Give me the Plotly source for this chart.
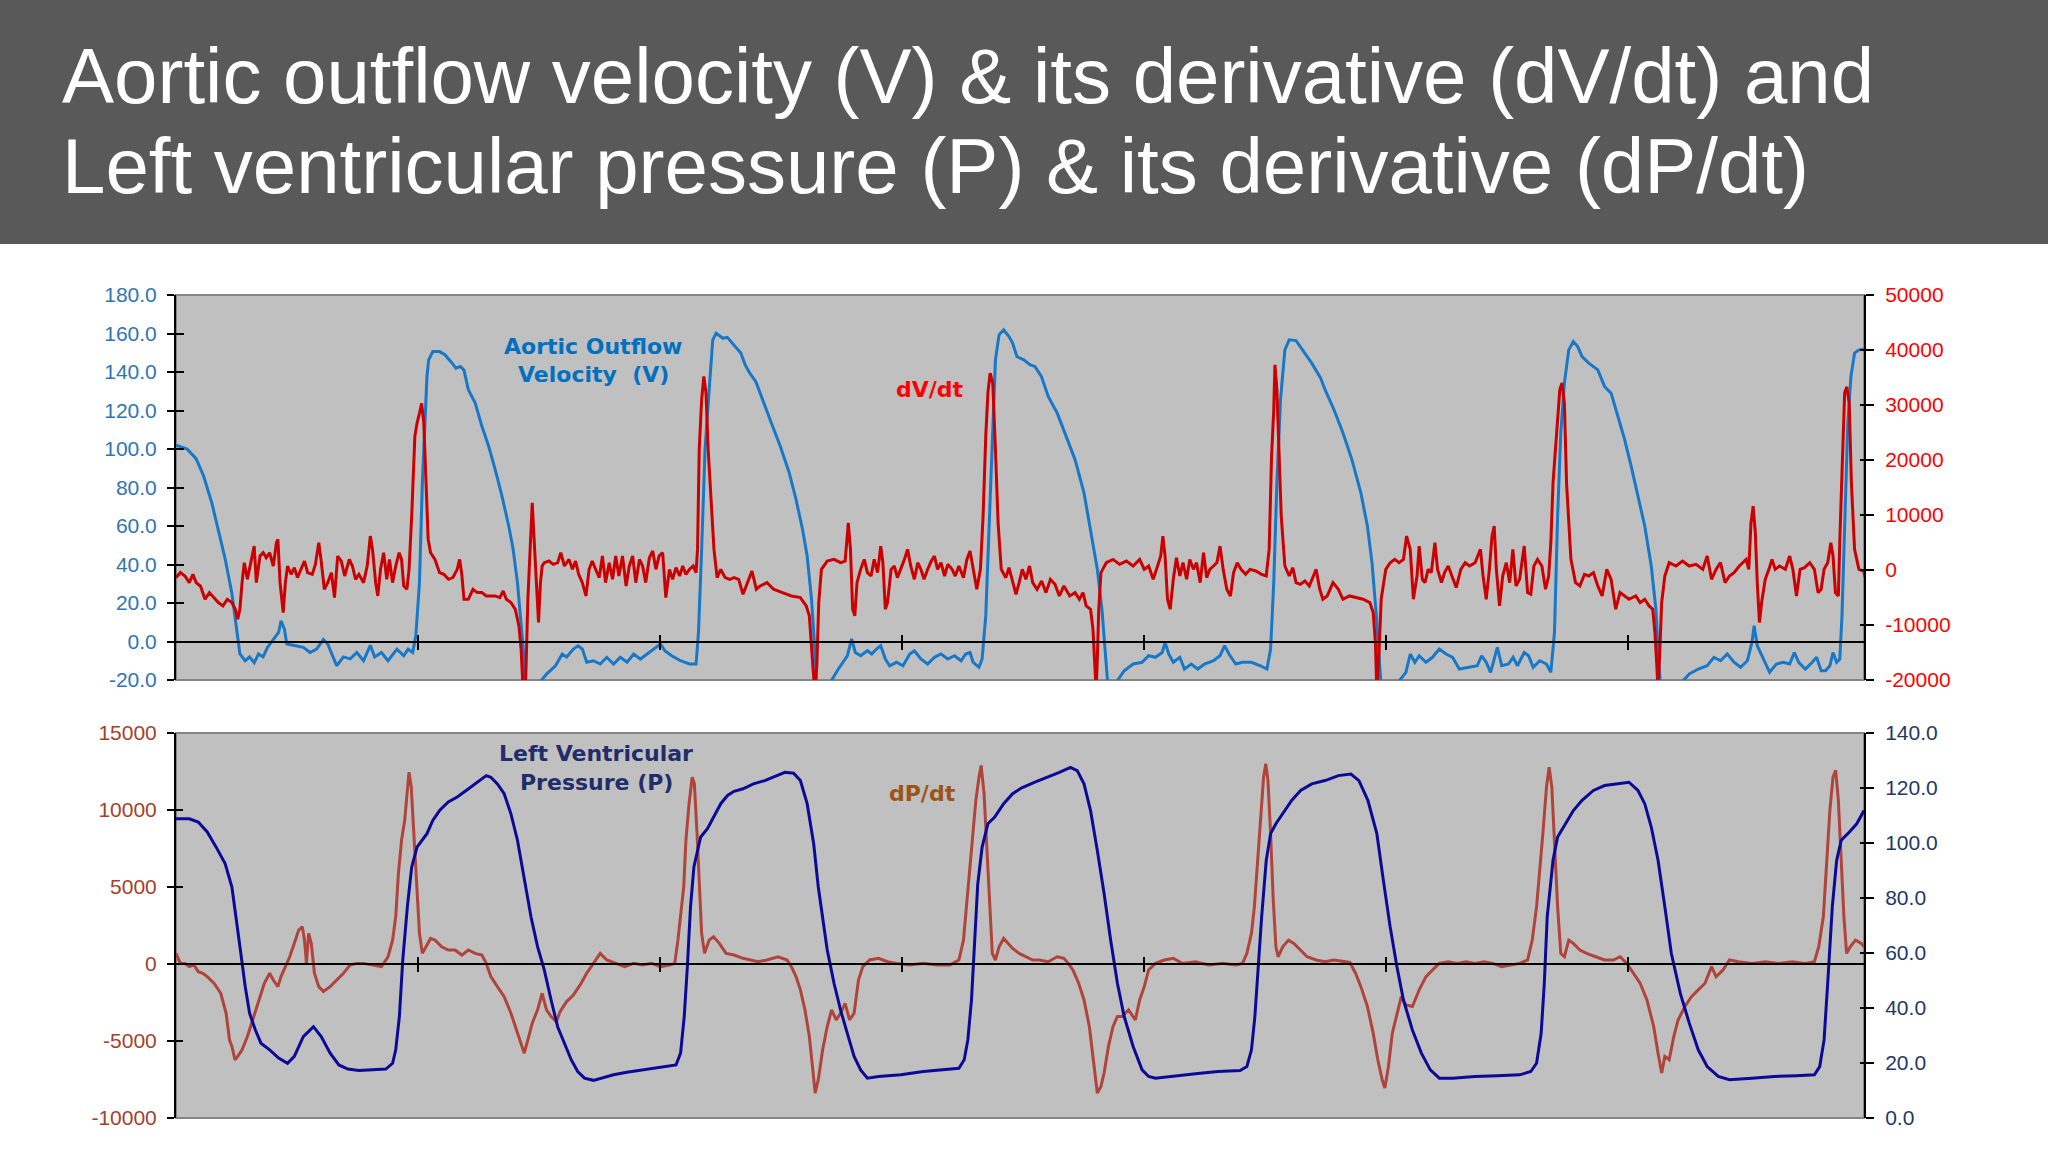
import plotly.graph_objects as go

# ---------------- data ----------------
t_velocity = [0.000,0.046,0.083,0.114,0.148,0.175,0.203,0.231,0.249,0.264,0.286,0.304,0.323,0.341,0.360,0.378,0.402,0.424,0.434,0.448,0.458,0.489,0.526,0.554,0.581,0.609,0.627,0.649,0.664,0.692,0.720,0.747,0.775,0.803,0.821,0.849,0.876,0.913,0.941,0.959,0.978,0.991,1.006,1.018,1.030,1.037,1.044,1.061,1.089,1.111,1.135,1.157,1.175,1.190,1.208,1.236,1.264,1.292,1.319,1.347,1.375,1.393,1.411,1.424,1.435,1.443,1.498,1.531,1.568,1.596,1.614,1.642,1.661,1.679,1.697,1.725,1.753,1.780,1.808,1.836,1.864,1.891,1.919,1.947,1.974,2.002,2.020,2.048,2.085,2.122,2.149,2.159,2.172,2.186,2.205,2.218,2.232,2.260,2.278,2.306,2.334,2.352,2.371,2.396,2.423,2.460,2.497,2.534,2.562,2.589,2.608,2.626,2.635,2.641,2.648,2.700,2.737,2.774,2.792,2.807,2.829,2.857,2.875,2.894,2.912,2.931,2.949,2.977,3.004,3.032,3.051,3.078,3.106,3.134,3.161,3.189,3.217,3.244,3.263,3.281,3.294,3.318,3.331,3.346,3.361,3.373,3.386,3.401,3.420,3.442,3.457,3.475,3.503,3.530,3.549,3.576,3.604,3.641,3.678,3.715,3.752,3.779,3.807,3.826,3.835,3.844,3.850,3.881,3.918,3.955,3.992,4.019,4.047,4.075,4.087,4.102,4.121,4.148,4.167,4.195,4.222,4.250,4.287,4.314,4.333,4.351,4.379,4.407,4.444,4.481,4.508,4.523,4.536,4.549,4.564,4.582,4.600,4.628,4.656,4.693,4.730,4.748,4.785,4.822,4.859,4.896,4.923,4.942,4.960,4.970,4.979,5.045,5.082,5.100,5.119,5.137,5.165,5.192,5.220,5.248,5.275,5.303,5.340,5.377,5.395,5.414,5.432,5.460,5.478,5.506,5.525,5.543,5.571,5.589,5.608,5.635,5.663,5.681,5.696,5.709,5.722,5.737,5.755,5.774,5.792,5.810,5.838,5.875,5.903,5.930,5.958,5.986,6.013,6.041,6.069,6.096,6.115,6.124,6.133,6.216,6.253,6.290,6.327,6.355,6.382,6.410,6.438,6.465,6.493,6.512,6.521,6.534,6.558,6.585,6.613,6.641,6.668,6.687,6.705,6.733,6.761,6.779,6.798,6.816,6.834,6.847,6.862,6.875,6.884,6.895,6.908,6.921,6.936,6.954,6.975]
velocity = [102,100,95,86,72,58,43,25,8,-6.5,-10,-8,-11,-6.5,-8,-3,1,4.7,10.7,6.4,-1.3,-2,-3,-5.7,-4,1,-1.3,-8,-12.6,-8,-9,-5.7,-10,-2,-8,-5.7,-10,-4,-7.4,-4,-5.7,3,30.6,82.4,117,137.7,146.3,150.6,150.6,149,145.5,142,142.9,141,130.8,124,111.8,101.4,89.3,75.5,60,47.9,30.6,13.3,-3.9,-22,-22,-16.9,-12.6,-6.5,-8,-3.9,-2.2,-3.9,-10.8,-10,-11.7,-8.2,-11.7,-8.2,-10.8,-6.5,-9.1,-6.5,-3.9,-1.3,-4.8,-7.4,-10,-11.7,-11.7,4.7,47.9,99.7,134.2,156.7,160.1,157.5,158,154,149.8,143.7,139.4,135,125.6,113.5,101.4,87.6,73.8,58.2,44.4,22,4.7,-9.1,-22,-22,-14.3,-7.4,1.3,-5.7,-7.4,-4.8,-6.5,-3.9,-2.2,-9.1,-12.6,-10.8,-12.6,-6.5,-4.8,-9.1,-11.7,-8.2,-6.5,-9.1,-7.4,-10,-6.5,-5.7,-10.8,-13.4,-9.1,13.3,65.2,108.3,146.3,159.3,161.9,158.4,155,148,146.3,143.7,142.9,137.7,127.3,118.7,106.6,94.5,77.2,58.2,37.5,16.8,3,-9.1,-22,-22,-15.2,-11.7,-10.8,-7.4,-8.2,-5.7,-0.5,-6.5,-10.8,-8.2,-14.3,-11.7,-14.3,-11.7,-10,-7.4,-2.2,-6.5,-11.7,-10.8,-10.8,-12.6,-14.3,-3.9,30.6,82.4,125.6,151.5,156.7,156.3,151.5,144.6,136.8,130.8,120.4,108.3,94.5,77.2,60,41,13.3,-3.9,-22,-22,-16,-6.5,-10.8,-7.4,-10.8,-8.2,-3.9,-6.5,-8.2,-14.3,-13.4,-12.6,-7.4,-10.8,-16,-3,-12.6,-11.7,-8.2,-12.6,-5.7,-7.4,-13.4,-10,-11.7,-16,4.7,65.2,108.3,134.2,151.5,155.8,153.2,148,144.6,141.1,132.5,129,117,104.9,91,75.5,60,39.2,16.8,-3.9,-22,-22,-16.9,-14.3,-12.6,-8.2,-10,-6.5,-10.8,-13.4,-10,-0.5,8.2,-2.2,-9.1,-16,-11.7,-10.8,-11.7,-5.7,-10.8,-14.3,-10.8,-8.2,-15.2,-15.2,-12.6,-5.7,-10.8,-9.1,13.3,65.2,113.5,137.7,149.8,151.5,151.8]

t_dvdt = [0.000,0.018,0.037,0.055,0.070,0.083,0.101,0.120,0.138,0.157,0.175,0.194,0.212,0.231,0.245,0.255,0.264,0.273,0.282,0.295,0.310,0.323,0.332,0.347,0.360,0.373,0.387,0.402,0.415,0.421,0.430,0.443,0.452,0.461,0.476,0.489,0.502,0.517,0.531,0.544,0.563,0.576,0.590,0.600,0.613,0.627,0.642,0.655,0.668,0.683,0.697,0.716,0.729,0.742,0.756,0.775,0.790,0.803,0.812,0.825,0.834,0.845,0.858,0.871,0.882,0.895,0.908,0.922,0.932,0.941,0.954,0.963,0.974,0.987,0.996,1.006,1.015,1.024,1.033,1.042,1.052,1.070,1.089,1.107,1.126,1.144,1.162,1.172,1.181,1.190,1.208,1.227,1.245,1.264,1.282,1.301,1.319,1.338,1.352,1.365,1.384,1.402,1.417,1.426,1.432,1.439,1.445,1.454,1.463,1.472,1.482,1.491,1.498,1.506,1.513,1.522,1.541,1.559,1.577,1.590,1.605,1.624,1.638,1.651,1.664,1.679,1.694,1.707,1.720,1.734,1.749,1.762,1.775,1.790,1.804,1.817,1.830,1.845,1.860,1.873,1.887,1.900,1.915,1.928,1.941,1.956,1.970,1.983,1.996,2.011,2.024,2.039,2.052,2.066,2.081,2.094,2.107,2.122,2.137,2.149,2.155,2.162,2.172,2.181,2.190,2.199,2.210,2.223,2.236,2.251,2.269,2.288,2.306,2.325,2.343,2.362,2.380,2.398,2.414,2.442,2.469,2.506,2.543,2.580,2.604,2.617,2.626,2.632,2.639,2.648,2.656,2.667,2.691,2.719,2.746,2.765,2.778,2.787,2.796,2.805,2.814,2.829,2.844,2.857,2.872,2.885,2.899,2.912,2.921,2.931,2.940,2.955,2.968,2.981,2.995,3.010,3.023,3.036,3.051,3.065,3.078,3.091,3.106,3.121,3.134,3.147,3.161,3.176,3.189,3.207,3.220,3.235,3.254,3.268,3.281,3.294,3.309,3.324,3.335,3.346,3.355,3.364,3.375,3.386,3.397,3.410,3.429,3.442,3.457,3.471,3.484,3.497,3.512,3.527,3.540,3.558,3.577,3.595,3.613,3.632,3.650,3.669,3.693,3.715,3.733,3.748,3.761,3.779,3.789,3.794,3.802,3.807,3.813,3.822,3.844,3.872,3.899,3.927,3.955,3.982,4.001,4.019,4.038,4.056,4.069,4.078,4.087,4.097,4.108,4.121,4.134,4.148,4.161,4.176,4.189,4.204,4.217,4.232,4.246,4.259,4.272,4.287,4.301,4.314,4.327,4.342,4.357,4.370,4.385,4.401,4.420,4.438,4.462,4.486,4.505,4.517,4.527,4.536,4.541,4.549,4.558,4.567,4.582,4.600,4.615,4.628,4.646,4.665,4.683,4.711,4.726,4.739,4.757,4.781,4.803,4.822,4.849,4.877,4.905,4.933,4.947,4.956,4.962,4.971,4.980,4.999,5.017,5.036,5.054,5.072,5.085,5.100,5.113,5.128,5.137,5.150,5.161,5.174,5.187,5.202,5.213,5.229,5.242,5.257,5.272,5.290,5.309,5.327,5.345,5.368,5.390,5.401,5.414,5.427,5.438,5.447,5.456,5.469,5.482,5.497,5.511,5.524,5.537,5.552,5.571,5.585,5.598,5.611,5.626,5.644,5.659,5.672,5.681,5.690,5.700,5.709,5.718,5.727,5.737,5.746,5.755,5.764,5.783,5.801,5.820,5.838,5.857,5.875,5.893,5.912,5.930,5.949,5.967,5.986,6.004,6.032,6.050,6.069,6.087,6.102,6.111,6.119,6.124,6.131,6.139,6.152,6.170,6.198,6.225,6.253,6.281,6.309,6.327,6.345,6.364,6.382,6.401,6.419,6.438,6.460,6.475,6.488,6.499,6.508,6.517,6.526,6.534,6.543,6.552,6.567,6.582,6.595,6.608,6.626,6.650,6.668,6.681,6.696,6.711,6.729,6.751,6.770,6.785,6.798,6.810,6.825,6.838,6.847,6.857,6.869,6.876,6.886,6.895,6.904,6.914,6.923,6.936,6.954,6.973,6.982]
dvdt = [-1390,-480,-1090,-2300,-790,-2300,-2900,-5320,-4110,-5020,-5920,-6530,-5320,-5920,-7130,-8950,-7130,-2300,1330,-1690,1330,4350,-2300,2540,3140,2240,3140,725,4960,5560,-2300,-7740,-2300,725,-790,420,-1390,120,1630,-480,-790,1030,4960,1630,-3500,-2300,-480,-5020,2540,1630,-1090,1930,725,-1690,-790,-2300,725,6170,3750,-2300,-4720,120,3140,-1690,1930,-2300,725,3140,1930,-2900,-3500,120,9790,24300,26700,28500,30300,26700,15800,5560,3140,1930,-480,-790,-1690,-1390,120,1930,-790,-5320,-5320,-3500,-4110,-4110,-4720,-4720,-4720,-5020,-3810,-5320,-5920,-7130,-10160,-14390,-19830,-22000,-19830,-5320,3750,12200,3750,-5320,-9550,-2300,725,1330,1630,1030,1330,3140,725,1930,120,1630,-790,-2300,-4720,120,1630,120,-1390,2540,-2300,1330,-1690,2540,-1090,2540,-2900,725,2540,-2300,1930,725,-2300,2240,3450,120,2540,3140,-5020,120,-1690,420,-1090,725,-790,120,725,-480,3750,21900,31000,35200,32200,21900,12800,3750,-1390,120,-1390,-1690,-1390,-1690,-4410,-2300,-180,-3500,-2900,-2300,-3500,-4110,-4720,-5020,-6530,-8340,-13180,-18010,-22000,-17400,-5920,120,1630,1930,1330,1630,8580,3750,-7130,-8340,-2300,120,1930,-480,-1090,1930,-480,4350,1330,-7130,-5920,120,725,-1390,120,1930,3750,725,-1690,1330,120,-1690,120,1630,2540,120,1330,-1090,1030,120,-1090,725,-1390,1930,3450,120,-3500,120,9790,24300,32200,35800,34000,21900,8580,120,-1390,420,-2000,-4410,-2300,120,-1690,725,-2300,-3500,-2000,-4110,-1690,-2600,-4720,-2900,-4720,-4110,-5320,-4110,-6530,-7130,-10760,-15600,-22000,-16200,-7130,-480,1330,1930,1030,1630,725,1930,120,725,-1690,725,2540,6170,2540,-5320,-7130,-1690,2240,-1090,1330,-1690,1930,120,1330,-2300,3140,-1390,120,725,1330,4350,120,-3500,-4720,-480,1330,120,-790,120,-180,-790,-1090,3750,20700,29100,37300,32800,20700,9790,725,-1090,420,-2300,-2600,-2000,-2900,120,-3500,-5320,-4720,-2300,-3500,-5320,-4720,-5020,-5320,-5920,-7740,-13180,-22000,-14990,-5320,120,1330,1930,1330,1930,6170,3750,-5320,-1090,4350,-1690,-2300,120,-480,4960,120,-2300,-480,725,-1090,-3200,120,1330,725,1330,3750,-1090,-5320,120,6170,7980,120,-6530,-1090,1330,-2300,3750,-2900,-1690,4350,-4110,-4410,725,1930,725,-3500,-1090,4960,15800,21900,27900,32800,34000,30300,15800,8580,1930,-2300,-2900,-790,-1090,-480,-2900,-4720,120,-1690,-7130,-4110,-4720,-5320,-4720,-5920,-5320,-6530,-7130,-11360,-17400,-22000,-14990,-5920,-1090,1330,725,1630,725,1030,120,2540,-1690,120,1330,-2300,-1090,-480,725,1330,1930,120,8580,11600,6770,-2300,-9550,-5920,-1690,120,1930,120,725,120,2540,120,-4720,120,420,1330,120,-4110,-3500,120,1330,4960,2540,-4110,-4720,6770,20700,32200,33300,30300,15800,3750,120,-180,-1690]

t_pressure = [0.000,0.055,0.092,0.129,0.166,0.203,0.231,0.249,0.268,0.286,0.304,0.328,0.351,0.387,0.424,0.461,0.489,0.526,0.568,0.600,0.637,0.673,0.710,0.756,0.812,0.867,0.895,0.908,0.923,0.937,0.956,0.974,0.996,1.018,1.037,1.061,1.089,1.125,1.162,1.199,1.236,1.264,1.282,1.301,1.328,1.356,1.384,1.411,1.439,1.467,1.494,1.522,1.550,1.577,1.605,1.633,1.660,1.688,1.725,1.762,1.808,1.863,1.919,1.974,2.029,2.066,2.085,2.100,2.113,2.126,2.140,2.168,2.196,2.223,2.251,2.279,2.306,2.343,2.386,2.433,2.479,2.516,2.552,2.580,2.608,2.635,2.654,2.672,2.691,2.719,2.746,2.774,2.802,2.829,2.857,2.903,2.995,3.088,3.180,3.235,3.257,3.272,3.287,3.300,3.313,3.331,3.355,3.383,3.420,3.457,3.493,3.549,3.604,3.650,3.696,3.724,3.752,3.779,3.807,3.835,3.862,3.890,3.918,3.955,3.992,4.019,4.047,4.121,4.213,4.305,4.397,4.425,4.444,4.458,4.471,4.486,4.505,4.523,4.545,4.573,4.610,4.647,4.693,4.748,4.803,4.855,4.888,4.925,4.962,4.989,5.017,5.045,5.072,5.109,5.146,5.183,5.220,5.275,5.368,5.460,5.552,5.598,5.622,5.641,5.654,5.666,5.690,5.709,5.737,5.774,5.810,5.857,5.903,5.958,6.004,6.041,6.069,6.096,6.124,6.152,6.179,6.216,6.253,6.290,6.327,6.373,6.419,6.512,6.604,6.696,6.770,6.792,6.810,6.825,6.844,6.862,6.881,6.908,6.945,6.975]
pressure = [108.8,108.8,107.6,104,98.5,92.5,84,73.1,59.8,47.8,38.1,32,27.2,24.8,21.8,19.9,22.4,29.6,33.2,29.6,23.6,19.3,17.8,17.3,17.5,17.8,19.9,24.8,36.9,57.4,76.8,91.3,98.5,101,103.4,108.2,111.8,114.9,116.7,119.1,121.5,123.3,124.5,123.9,121.5,117.9,110.6,101,87.7,73.1,62.3,53.8,42.9,33.2,27.2,21.2,16.9,14.5,13.7,14.5,15.7,16.6,17.3,18.1,18.7,19.3,23.6,36.9,55,76.8,91.3,102.2,105.2,109.4,114.3,117.3,118.8,119.7,121.5,122.7,124.5,125.7,125.4,122.7,114.3,99.7,84,73.1,61.1,49,39.3,30.8,22.4,17.5,14.5,15.1,15.7,16.9,17.5,18.1,21.2,28.4,42.9,64.7,85.2,98.5,107,109.4,114.3,117.9,120,122.1,123.9,125.7,127.5,126.3,121.5,111.8,97.3,81.6,64.7,49,36.9,26,17.5,15.1,14.5,15.1,16.1,16.9,17.3,18.7,24.8,36.9,55,73.1,93.7,103.4,107,110.6,115.5,119.1,121.5,122.7,124.5,125.1,122.7,115.5,103.4,86.4,69.5,55,42.9,32,23.6,17.5,14.5,14.5,15.1,15.4,15.7,16.9,19.9,30.8,49,73.1,93.7,102.2,106.4,111.8,115.5,119.1,120.9,121.7,122.1,119.1,114.3,105.8,93.7,76.8,59.8,45.3,34.5,24.8,18.7,15.1,13.9,14.5,15.1,15.4,15.7,18.7,28.4,49,76.8,93.7,101,103.4,107,111.8]

t_dpdt = [0.000,0.018,0.037,0.055,0.074,0.092,0.111,0.129,0.157,0.185,0.207,0.221,0.231,0.244,0.255,0.273,0.295,0.317,0.341,0.365,0.387,0.402,0.421,0.434,0.452,0.470,0.489,0.507,0.522,0.531,0.539,0.548,0.559,0.572,0.590,0.609,0.637,0.664,0.692,0.720,0.747,0.775,0.812,0.849,0.876,0.895,0.908,0.919,0.932,0.945,0.956,0.963,0.972,0.982,0.993,1.006,1.018,1.033,1.052,1.070,1.098,1.125,1.153,1.181,1.208,1.236,1.264,1.282,1.301,1.328,1.356,1.384,1.406,1.424,1.439,1.454,1.472,1.494,1.513,1.531,1.550,1.572,1.587,1.614,1.642,1.670,1.697,1.725,1.753,1.780,1.817,1.854,1.891,1.928,1.965,2.002,2.039,2.061,2.074,2.087,2.098,2.107,2.120,2.133,2.142,2.153,2.162,2.172,2.184,2.203,2.221,2.245,2.273,2.306,2.343,2.380,2.405,2.442,2.488,2.525,2.543,2.562,2.580,2.599,2.617,2.630,2.641,2.654,2.672,2.691,2.709,2.728,2.746,2.765,2.783,2.802,2.820,2.838,2.866,2.903,2.940,2.977,3.032,3.088,3.143,3.198,3.235,3.254,3.268,3.281,3.294,3.305,3.318,3.327,3.339,3.350,3.361,3.373,3.386,3.401,3.420,3.438,3.457,3.484,3.512,3.540,3.567,3.604,3.641,3.669,3.687,3.706,3.730,3.752,3.774,3.792,3.807,3.822,3.835,3.853,3.872,3.890,3.909,3.936,3.964,3.982,4.001,4.019,4.047,4.084,4.121,4.158,4.213,4.268,4.324,4.379,4.407,4.425,4.444,4.456,4.467,4.481,4.494,4.503,4.512,4.523,4.534,4.545,4.554,4.573,4.597,4.619,4.647,4.674,4.711,4.748,4.785,4.822,4.851,4.874,4.896,4.923,4.947,4.966,4.984,4.995,5.010,5.026,5.045,5.063,5.082,5.109,5.137,5.165,5.192,5.220,5.257,5.294,5.331,5.368,5.405,5.441,5.478,5.515,5.552,5.585,5.604,5.622,5.635,5.648,5.663,5.674,5.685,5.696,5.709,5.722,5.737,5.755,5.774,5.801,5.829,5.866,5.903,5.940,5.967,5.995,6.023,6.050,6.078,6.106,6.124,6.139,6.152,6.170,6.189,6.207,6.235,6.262,6.290,6.318,6.345,6.364,6.392,6.419,6.456,6.512,6.567,6.622,6.678,6.733,6.770,6.788,6.807,6.821,6.834,6.847,6.858,6.869,6.881,6.892,6.903,6.918,6.940,6.964,6.975]
dpdt = [690,40,40,-170,-60,-500,-600,-820,-1250,-1900,-3200,-4920,-5350,-6220,-6000,-5570,-4710,-3630,-2330,-1250,-600,-1040,-1470,-820,-170,470,1340,2200,2420,1550,40,1990,1340,-600,-1470,-1790,-1470,-1040,-600,-60,40,40,-60,-170,470,1550,3070,5870,8030,9330,11270,12460,11490,8680,5200,1990,690,1120,1660,1550,1120,910,910,580,910,690,580,40,-820,-1470,-2120,-3200,-4270,-5140,-5790,-4920,-3840,-2980,-1900,-2980,-3410,-3740,-3090,-2440,-2010,-1360,-600,40,690,260,40,-170,40,-60,40,-170,-60,40,1550,3280,5010,8030,10410,12130,11700,8460,5010,1990,690,1550,1770,1340,690,580,370,260,150,260,470,260,-170,-820,-1680,-2980,-4710,-6650,-8380,-7510,-5570,-4060,-2980,-3630,-3200,-2550,-3630,-3200,-1040,-170,260,370,150,40,-60,40,-60,-60,260,1550,3930,6300,8460,10620,12130,12890,11060,7380,3710,690,260,1120,1660,1340,1010,690,470,260,260,150,470,370,40,-390,-1250,-2330,-4060,-6220,-8380,-7950,-7080,-5350,-4060,-3410,-3410,-2980,-3630,-2330,-1470,-390,40,260,370,40,150,-60,40,-60,40,690,1990,3710,6300,9330,12130,13000,11920,8460,4140,1120,470,1120,1550,1340,910,470,260,150,260,150,100,-600,-1470,-2760,-4490,-6220,-7510,-8050,-6650,-4490,-3300,-2120,-2660,-2760,-1680,-820,-390,40,150,40,150,40,150,40,-170,-60,40,260,1550,3710,5870,8460,11490,12780,11490,8030,3710,690,470,1550,1340,910,690,470,260,260,470,40,-600,-1250,-2330,-4060,-5790,-7080,-6000,-6220,-4710,-3630,-2760,-2120,-1680,-1250,-170,-820,-390,260,150,40,150,40,150,40,150,1120,3070,6300,9970,12130,12570,10620,6300,3070,690,1120,1550,1340,1120]

# axis settings
T_RANGE = [0, 6.975]
X_TICKS = [1, 2, 3, 4, 5, 6]
V_RANGE = [-20, 180]
V_TICKS = [-20, 0, 20, 40, 60, 80, 100, 120, 140, 160, 180]
DVDT_RANGE = [-20000, 50000]
DVDT_TICKS = [-20000, -10000, 0, 10000, 20000, 30000, 40000, 50000]
DPDT_RANGE = [-10000, 15000]
DPDT_TICKS = [-10000, -5000, 0, 5000, 10000, 15000]
P_RANGE = [0, 140]
P_TICKS = [0, 20, 40, 60, 80, 100, 120, 140]

TITLE_1 = "Aortic outflow velocity (V) & its derivative (dV/dt) and"
TITLE_2 = "Left ventricular pressure (P) & its derivative (dP/dt)"

# ---------------- layout geometry ----------------
W, H = 2048, 1152
x_dom = [176 / W, 1864 / W]
top_dom = [1 - 680 / H, 1 - 295 / H]
bot_dom = [1 - 1118 / H, 1 - 733 / H]
pos_top = top_dom[0] + (0 - V_RANGE[0]) / (V_RANGE[1] - V_RANGE[0]) * (top_dom[1] - top_dom[0])
pos_bot = bot_dom[0] + (0 - DPDT_RANGE[0]) / (DPDT_RANGE[1] - DPDT_RANGE[0]) * (bot_dom[1] - bot_dom[0])

C_VEL = "#1878C8"
C_DVDT = "#CC0000"
C_P = "#0A0A96"
C_DPDT = "#B0443A"

TICKFONT = "Liberation Sans, Arial, sans-serif"
TITLEFONT = "Liberation Sans, Arial, sans-serif"
LABELFONT = "DejaVu Sans, Verdana, sans-serif"

fig = go.Figure()
fig.add_trace(go.Scatter(x=t_velocity, y=velocity, mode="lines", line=dict(color=C_VEL, width=3),
                         xaxis="x", yaxis="y", hoverinfo="skip"))
fig.add_trace(go.Scatter(x=t_dvdt, y=dvdt, mode="lines", line=dict(color=C_DVDT, width=3),
                         xaxis="x", yaxis="y2", hoverinfo="skip"))
fig.add_trace(go.Scatter(x=t_dpdt, y=dpdt, mode="lines", line=dict(color=C_DPDT, width=3),
                         xaxis="x2", yaxis="y3", hoverinfo="skip"))
fig.add_trace(go.Scatter(x=t_pressure, y=pressure, mode="lines", line=dict(color=C_P, width=3),
                         xaxis="x2", yaxis="y4", hoverinfo="skip"))
# empty traces carrying the inner halves of the crossing ticks
for xa, ya in [("x3", "y"), ("x4", "y3"), ("x", "y5"), ("x", "y6"), ("x2", "y7"), ("x2", "y8")]:
    fig.add_trace(go.Scatter(x=[None], y=[None], xaxis=xa, yaxis=ya, hoverinfo="skip"))

xbase = dict(range=T_RANGE, domain=x_dom, showgrid=False, zeroline=False, showticklabels=False,
             tickvals=X_TICKS, tickcolor="black", tickwidth=1.5, ticklen=7, automargin=False, fixedrange=True)


def yax(rng, ticks, fmt, color, **kw):
    d = dict(range=rng, tickvals=ticks, ticktext=[fmt(v) for v in ticks], showgrid=False, zeroline=False,
             showline=True, linecolor="black", linewidth=2, ticks="outside", ticklen=7, tickwidth=2,
             tickcolor="black", tickfont=dict(family=TICKFONT, size=21, color=color), automargin=False,
             fixedrange=True)
    d.update(kw)
    return d


def yinner(rng, ticks, over, side, length):
    return dict(range=rng, tickvals=ticks, showticklabels=False, showgrid=False, zeroline=False,
                showline=False, ticks="inside", ticklen=length, tickwidth=2, tickcolor="black",
                overlaying=over, side=side, automargin=False, fixedrange=True)


fmt1 = lambda v: f"{v:.1f}"
fmt0 = lambda v: f"{v:d}"

fig.update_layout(
    width=W, height=H, template="none", showlegend=False,
    margin=dict(l=0, r=0, t=0, b=0),
    paper_bgcolor="white", plot_bgcolor="rgba(0,0,0,0)",
    xaxis=dict(xbase, anchor="free", position=pos_top, showline=True, linecolor="black", linewidth=2, ticks="outside"),
    xaxis3=dict(xbase, anchor="free", position=pos_top, overlaying="x", showline=False, ticks="inside"),
    xaxis2=dict(xbase, anchor="free", position=pos_bot, showline=True, linecolor="black", linewidth=2, ticks="outside"),
    xaxis4=dict(xbase, anchor="free", position=pos_bot, overlaying="x2", showline=False, ticks="inside"),
    yaxis=yax(V_RANGE, V_TICKS, fmt1, "#2E75B6", domain=top_dom, anchor="x", side="left", ticklabelstandoff=6),
    yaxis2=yax(DVDT_RANGE, DVDT_TICKS, fmt0, "#FF0000", overlaying="y", anchor="x", side="right",
               ticklen=8, ticklabelstandoff=7),
    yaxis3=yax(DPDT_RANGE, DPDT_TICKS, fmt0, "#A5402D", domain=bot_dom, anchor="x2", side="left", ticklabelstandoff=6),
    yaxis4=yax(P_RANGE, P_TICKS, fmt1, "#1F3864", overlaying="y3", anchor="x2", side="right",
               ticklen=8, ticklabelstandoff=7),
    yaxis5=yinner(V_RANGE, V_TICKS, "y", "left", 8),
    yaxis6=yinner(DVDT_RANGE, DVDT_TICKS, "y", "right", 4),
    yaxis7=yinner(DPDT_RANGE, DPDT_TICKS, "y3", "left", 7),
    yaxis8=yinner(P_RANGE, P_TICKS, "y3", "right", 4),
)

shapes = [
    dict(type="rect", xref="paper", yref="paper", x0=0, x1=1, y0=1 - 244 / H, y1=1,
         fillcolor="#595959", line=dict(width=0), layer="below"),
    dict(type="rect", xref="paper", yref="paper", x0=x_dom[0], x1=x_dom[1], y0=top_dom[0], y1=top_dom[1],
         fillcolor="#C0C0C0", line=dict(color="#858585", width=2), layer="below"),
    dict(type="rect", xref="paper", yref="paper", x0=x_dom[0], x1=x_dom[1], y0=bot_dom[0], y1=bot_dom[1],
         fillcolor="#C0C0C0", line=dict(color="#858585", width=2), layer="below"),
]
fig.update_layout(shapes=shapes)


def label(text, x, y, color):
    return dict(text=f"<b>{text}</b>", x=x / W, y=1 - y / H, xanchor="center",
                yanchor="middle", font=dict(family=LABELFONT, size=22, color=color))


ann = [
    dict(text=TITLE_1, x=60 / W, y=1 - 76 / H, xanchor="left", yanchor="middle",
         font=dict(family=TITLEFONT, size=78, color="white")),
    dict(text=TITLE_2, x=60 / W, y=1 - 166 / H, xanchor="left", yanchor="middle",
         font=dict(family=TITLEFONT, size=78, color="white")),
    label("Aortic Outflow", 593, 346, "#0070C0"),
    label("Velocity  (V)", 593, 375, "#0070C0"),
    label("dV/dt", 930, 389, "#FF0000"),
    label("Left Ventricular", 596, 753, "#1F2D6B"),
    label("Pressure (P)", 596, 782, "#1F2D6B"),
    label("dP/dt", 922, 793, "#9C5418"),
]
for a in ann:
    a.update(xref="paper", yref="paper", showarrow=False)
fig.update_layout(annotations=ann)

fig.write_html("out.html", include_plotlyjs=True, config={"displayModeBar": False})
